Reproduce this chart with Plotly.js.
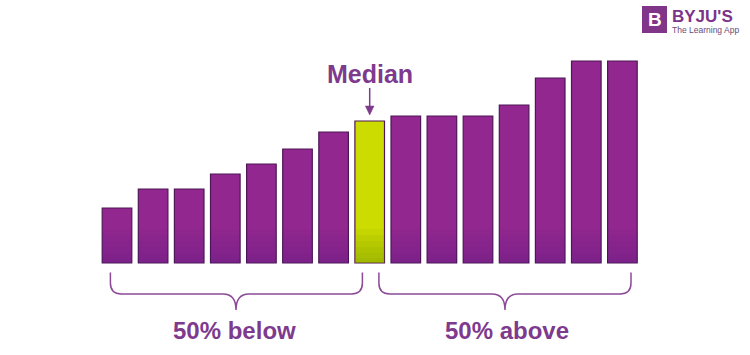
<!DOCTYPE html>
<html>
<head>
<meta charset="utf-8">
<script src="https://cdn.plot.ly/plotly-3.0.1.min.js"></script>
<style>html,body{margin:0;padding:0;background:#fff;}#chart{width:750px;height:355px;}</style>
</head>
<body>
<div id="chart"></div>
<script>
// ---- data ----
const positions = [1,2,3,4,5,6,7,8,9,10,11,12,13,14,15];
const values = [55, 74, 74, 89, 99, 114, 131, 142, 147, 147, 147, 158, 185, 202, 202];
const medianIndex = 7;
const labelBelow = "50% below";
const labelAbove = "50% above";
const labelMedian = "Median";

// ---- style ----
const purple = "#92278f";
const lime = "#cddc00";
const textPurple = "#7e3a8d";
const braceColor = "#8c4a98";

const colors = positions.map((p, i) => i === medianIndex ? lime : purple);
const xs = positions.map(p => p - 1);

const traces = [{
  type: "bar",
  x: xs,
  y: values,
  marker: { color: colors, line: { color: "#4e1757", width: 1.2 } },
  hoverinfo: "skip"
}];

// subtle darker gradient toward the bar bottoms (stacked translucent bands)
const bandTops = [34, 28, 22, 16, 10, 5];
bandTops.forEach(h => {
  traces.push({
    type: "bar",
    x: xs,
    y: values.map(v => Math.min(v, h)),
    marker: {
      color: positions.map((p, i) => i === medianIndex ? "rgba(110,140,0,0.09)" : "rgba(80,30,130,0.06)"),
      line: { width: 0 }
    },
    hoverinfo: "skip"
  });
});

// pixel -> data helpers (plot area covers the whole page)
const PX0 = 117, PITCH = 36.1, BASE = 263;
const X = px => (px - PX0) / PITCH;
const Y = py => BASE - py;

function brace(x1, x2, c) {
  const t = 272.5, m = 294, tip = 310, r = 11, rc = 13;
  const P = (px, py) => X(px) + "," + Y(py);
  return "M" + P(x1, t) + " L" + P(x1, m - r) + " Q" + P(x1, m) + " " + P(x1 + r, m) +
    " L" + P(c - rc, m) + " Q" + P(c, m) + " " + P(c, tip) +
    " Q" + P(c, m) + " " + P(c + rc, m) +
    " L" + P(x2 - r, m) + " Q" + P(x2, m) + " " + P(x2, m - r) + " L" + P(x2, t);
}

const medX = xs[medianIndex];
const shapes = [
  { type: "path", xref: "x", yref: "y", path: brace(110.4, 362.4, 236), line: { color: braceColor, width: 1.5 } },
  { type: "path", xref: "x", yref: "y", path: brace(378.9, 631, 505), line: { color: braceColor, width: 1.5 } },
  // median arrow
  { type: "line", xref: "x", yref: "y", x0: medX, x1: medX, y0: Y(88), y1: Y(108), line: { color: textPurple, width: 1.5 } },
  { type: "path", xref: "x", yref: "y",
    path: "M" + (medX - 0.12) + "," + Y(106) + " L" + (medX + 0.12) + "," + Y(106) + " L" + medX + "," + Y(115) + " Z",
    fillcolor: textPurple, line: { color: textPurple, width: 0.5 } },
  // logo square
  { type: "rect", xref: "x", yref: "y", x0: X(642), x1: X(667), y0: Y(6), y1: Y(33),
    fillcolor: "#813589", line: { color: "#813589", width: 0 } }
];

const annotations = [
  { x: medX, y: Y(74), xref: "x", yref: "y", text: "<b>" + labelMedian + "</b>", showarrow: false,
    font: { family: "Liberation Sans, Arial, sans-serif", size: 25, color: textPurple } },
  { x: X(234), y: Y(330), xref: "x", yref: "y", text: "<b>" + labelBelow + "</b>", showarrow: false,
    font: { family: "Liberation Sans, Arial, sans-serif", size: 24, color: textPurple } },
  { x: X(507), y: Y(330), xref: "x", yref: "y", text: "<b>" + labelAbove + "</b>", showarrow: false,
    font: { family: "Liberation Sans, Arial, sans-serif", size: 24, color: textPurple } },
  { x: X(654.5), y: Y(19.5), xref: "x", yref: "y", text: "<b>B</b>", showarrow: false,
    font: { family: "Liberation Sans, Arial, sans-serif", size: 19, color: "#ffffff" } },
  { x: X(670), y: Y(16), xref: "x", yref: "y", xanchor: "left", text: "<b>BYJU'S</b>", showarrow: false,
    font: { family: "Liberation Sans, Arial, sans-serif", size: 17, color: "#7b348a" } },
  { x: X(670), y: Y(30), xref: "x", yref: "y", xanchor: "left", text: "The Learning App", showarrow: false,
    font: { family: "Liberation Sans, Arial, sans-serif", size: 8.5, color: "#6a4a78" } }
];

const layout = {
  width: 750, height: 355,
  margin: { l: 0, r: 0, t: 0, b: 0 },
  paper_bgcolor: "#ffffff", plot_bgcolor: "#ffffff",
  showlegend: false,
  barmode: "overlay",
  bargap: 0.18,
  xaxis: { range: [X(0), X(750)], visible: false, fixedrange: true },
  yaxis: { range: [Y(355), Y(0)], visible: false, fixedrange: true },
  shapes: shapes,
  annotations: annotations
};

Plotly.newPlot("chart", traces, layout, { displayModeBar: false, staticPlot: true });
</script>
</body>
</html>
